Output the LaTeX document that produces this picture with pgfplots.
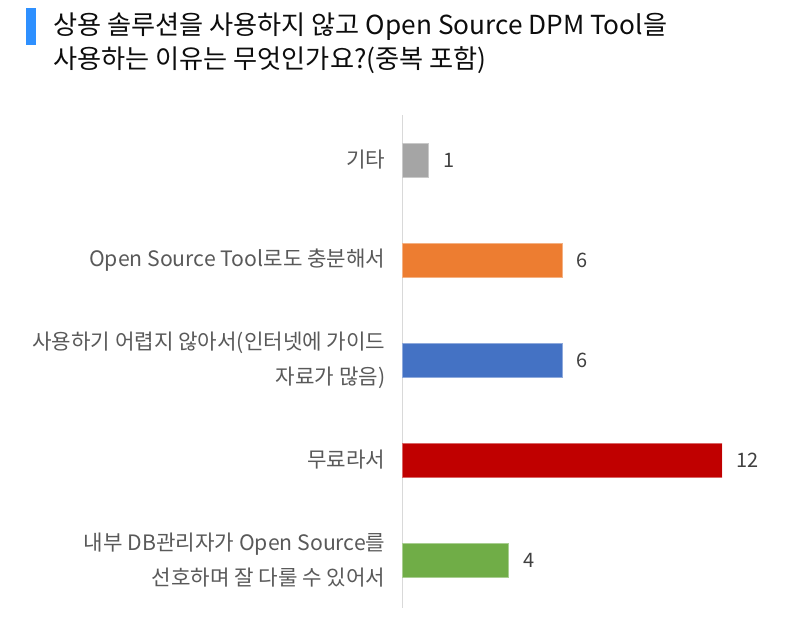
\documentclass[border=0pt]{standalone}
\usepackage{pgfplots}
\pgfplotsset{compat=1.18}
\usepackage{fontspec}
\setmainfont{Noto Sans CJK KR}

\definecolor{cGray}{HTML}{A5A5A5}
\definecolor{cOrange}{HTML}{ED7D31}
\definecolor{cBlue}{HTML}{4472C4}
\definecolor{cRed}{HTML}{C00000}
\definecolor{cGreen}{HTML}{70AD47}
\definecolor{titleBar}{HTML}{2E90FF}
\definecolor{lblGray}{HTML}{595959}
\definecolor{valGray}{HTML}{404040}

\begin{document}
\begin{tikzpicture}[x=1bp,y=1bp]
\useasboundingbox (0,0) rectangle (800,634);
% title
\fill[titleBar] (26,634-8) rectangle (36,634-45);
\node[anchor=west, inner sep=0pt, font=\fontsize{26.3}{30}\selectfont, text=black!95]
  at (53,634-27) {상용 솔루션을 사용하지 않고 Open Source DPM Tool을};
\node[anchor=west, inner sep=0pt, font=\fontsize{26.3}{30}\selectfont, text=black!95]
  at (53,634-60) {사용하는 이유는 무엇인가요?(중복 포함)};

\begin{axis}[
    at={(402bp,26bp)}, anchor=south west,
    scale only axis,
    width=320bp, height=493bp,
    xbar, bar width=34bp,
    xmin=0, xmax=12,
    ymin=0.52, ymax=5.45,
    axis x line=none,
    axis y line=left,
    y axis line style={-, draw=black!15, line width=1pt},
    ytick={1,2,3,4,5},
    yticklabels={{내부 DB관리자가 Open Source를\\선호하며 잘 다룰 수 있어서},
                 {무료라서},
                 {사용하기 어렵지 않아서(인터넷에 가이드\\자료가 많음)},
                 {Open Source Tool로도 충분해서},
                 {기타}},
    major tick length=0pt,
    yticklabel style={align=right, text=lblGray,
        font=\fontsize{21.3}{35}\selectfont, xshift=-13bp},
    /pgf/number format/assume math mode=true,
    nodes near coords,
    nodes near coords style={anchor=west, text=valGray,
        font=\fontsize{20}{22}\selectfont, xshift=11bp},
    every axis plot/.append style={bar shift=0pt},
  ]
\addplot[fill=cGreen, draw=cGreen!60!white] coordinates {(4,1)};
\addplot[fill=cRed, draw=cRed!60!white] coordinates {(12,2)};
\addplot[fill=cBlue, draw=cBlue!60!white] coordinates {(6,3)};
\addplot[fill=cOrange, draw=cOrange!60!white] coordinates {(6,4)};
\addplot[fill=cGray, draw=cGray!60!white] coordinates {(1,5)};
\end{axis}
\end{tikzpicture}
\end{document}
